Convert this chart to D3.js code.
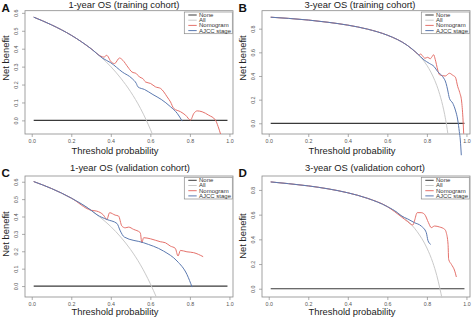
<!DOCTYPE html>
<meta charset="utf-8">
<script src="https://d3js.org/d3.v7.min.js"></script>
<style>
  body { margin: 0; background: #fff; }
  svg text { font-family: "Liberation Sans", Arial, sans-serif; }
</style>
<div id="chart"></div>
<script>
  // ---- data ----
  var panelLetters = ["A", "B", "C", "D"];
  var panelTitles = ["1-year OS (training cohort)", "3-year OS (training cohort)",
                     "1-year OS (validation cohort)", "3-year OS (validation cohort)"];
  var legendLabels = ["None", "All", "Nomogram", "AJCC stage"];
  var xTicks = [0, 0.2, 0.4, 0.6, 0.8, 1.0];
  var yTicksA = [0, 0.1, 0.2, 0.3, 0.4, 0.5, 0.6];
  var yTicksB = [0, 0.2, 0.4, 0.6, 0.8];
  var yTicksC = [0, 0.1, 0.2, 0.3, 0.4, 0.5, 0.6];
  var yTicksD = [0, 0.2, 0.4, 0.6, 0.8];
  var yLimits = [[-0.076, 0.612], [-0.0905, 0.952], [-0.063, 0.633], [-0.067, 0.913]];

  var noneLine = [[0.01, 0], [0.99, 0]];

  var allA = [[0.01,0.576],[0.1,0.533],[0.2,0.475],[0.3,0.40],[0.35,0.354],[0.4,0.30],[0.45,0.236],
              [0.5,0.16],[0.55,0.067],[0.58,0.0],[0.6,-0.05],[0.61,-0.076]];
  var nomogramA = [[0.01,0.576],[0.1,0.533],[0.2,0.475],[0.3,0.40],[0.35,0.358],[0.365,0.353],[0.379,0.363],
              [0.402,0.326],[0.419,0.317],[0.444,0.348],[0.461,0.335],[0.486,0.298],[0.507,0.27],[0.529,0.261],
              [0.545,0.242],[0.562,0.233],[0.576,0.214],[0.601,0.206],[0.626,0.187],[0.652,0.178],[0.668,0.159],
              [0.685,0.131],[0.702,0.103],[0.718,0.067],[0.753,0.048],[0.778,0.029],[0.803,0.002],[0.82,0.039],
              [0.837,0.053],[0.862,0.048],[0.895,0.029],[0.929,0.002],[0.943,-0.035],[0.955,-0.076]];
  var ajccA = [[0.01,0.576],[0.1,0.533],[0.2,0.475],[0.3,0.40],[0.36,0.346],[0.399,0.322],[0.458,0.27],
              [0.508,0.233],[0.529,0.206],[0.537,0.187],[0.571,0.172],[0.613,0.144],[0.655,0.117],
              [0.702,0.076],[0.736,0.039],[0.761,-0.004]];

  var allB = [[0.01,0.897],[0.1,0.887],[0.2,0.873],[0.3,0.854],[0.4,0.83],[0.5,0.796],[0.6,0.745],[0.65,0.709],
              [0.7,0.66],[0.75,0.592],[0.8,0.49],[0.82,0.433],[0.84,0.362],[0.86,0.271],[0.88,0.150],
              [0.89,0.073],[0.9,-0.02],[0.906,-0.088]];
  var nomogramB = [[0.01,0.897],[0.1,0.887],[0.2,0.873],[0.3,0.854],[0.4,0.83],[0.5,0.796],[0.6,0.745],
              [0.7,0.66],[0.744,0.60],[0.761,0.578],[0.769,0.586],[0.778,0.569],[0.79,0.55],[0.804,0.558],
              [0.817,0.546],[0.826,0.563],[0.834,0.58],[0.842,0.541],[0.855,0.45],[0.864,0.41],[0.893,0.40],
              [0.914,0.423],[0.931,0.406],[0.944,0.39],[0.956,0.31],[0.966,0.26],[0.976,0.18],[0.983,0.02],
              [0.986,-0.088]];
  var ajccB = [[0.01,0.897],[0.1,0.887],[0.2,0.873],[0.3,0.854],[0.4,0.83],[0.5,0.796],[0.6,0.745],
              [0.65,0.709],[0.7,0.66],[0.75,0.592],[0.786,0.535],[0.812,0.507],[0.837,0.479],[0.855,0.436],
              [0.88,0.394],[0.897,0.338],[0.905,0.282],[0.914,0.211],[0.931,0.169],[0.944,0.112],
              [0.956,0.028],[0.964,-0.071],[0.969,-0.141],[0.974,-0.27]];

  var allC = [[0.01,0.601],[0.1,0.561],[0.2,0.506],[0.3,0.436],[0.35,0.392],[0.4,0.342],[0.45,0.282],
              [0.5,0.21],[0.55,0.122],[0.6,0.013],[0.63,-0.063]];
  var nomogramC = [[0.01,0.601],[0.1,0.561],[0.2,0.506],[0.3,0.436],[0.329,0.431],[0.363,0.408],[0.38,0.383],
              [0.394,0.422],[0.422,0.408],[0.439,0.403],[0.456,0.345],[0.473,0.335],[0.49,0.339],[0.515,0.326],
              [0.549,0.307],[0.557,0.249],[0.566,0.278],[0.6,0.272],[0.65,0.255],[0.676,0.249],[0.701,0.23],
              [0.726,0.217],[0.74,0.173],[0.752,0.205],[0.785,0.197],[0.819,0.192],[0.867,0.169]];
  var ajccC = [[0.01,0.601],[0.1,0.561],[0.2,0.506],[0.3,0.436],[0.33,0.41],[0.38,0.383],[0.431,0.36],
              [0.448,0.317],[0.468,0.282],[0.566,0.249],[0.667,0.201],[0.735,0.144],[0.785,0.067],[0.811,-0.006]];

  var allD = [[0.01,0.865],[0.1,0.851],[0.2,0.833],[0.3,0.809],[0.4,0.777],[0.5,0.732],[0.6,0.665],
              [0.65,0.617],[0.7,0.553],[0.75,0.464],[0.8,0.33],[0.83,0.212],[0.85,0.107],[0.866,0.0],[0.876,-0.075]];
  var nomogramD = [[0.01,0.865],[0.1,0.851],[0.2,0.833],[0.3,0.809],[0.4,0.777],[0.5,0.732],[0.6,0.665],
              [0.636,0.625],[0.669,0.585],[0.703,0.543],[0.729,0.516],[0.737,0.549],[0.751,0.616],[0.771,0.616],
              [0.788,0.603],[0.808,0.535],[0.822,0.495],[0.839,0.508],[0.864,0.5],[0.89,0.481],[0.898,0.454],
              [0.907,0.359],[0.91,0.238],[0.924,0.197],[0.941,0.143],[0.949,0.095]];
  var ajccD = [[0.01,0.865],[0.1,0.851],[0.2,0.833],[0.3,0.809],[0.4,0.777],[0.5,0.732],[0.6,0.665],
              [0.65,0.617],[0.669,0.592],[0.703,0.565],[0.737,0.535],[0.771,0.508],[0.797,0.454],
              [0.805,0.392],[0.819,0.359]];

  // ---- layout ----
  var colors = ["#3a3a3a", "#cacaca", "#e5716b", "#5b79b0"];
  var offsets = [[0, 0], [237, 0], [0, 161], [237, 161]];
  var frames = [[10.7, 134], [10.7, 134], [15, 136], [15, 136]];   // top, bottom (panel coords)
  var ylabY = [58, 58, 73, 75];
  var titleX = [124, 123, 130, 128];
  var titleY = [8.3, 8.3, 10, 10];

  var panels = [
    {yTicks: yTicksA, series: [noneLine, allA, nomogramA, ajccA]},
    {yTicks: yTicksB, series: [noneLine, allB, nomogramB, ajccB]},
    {yTicks: yTicksC, series: [noneLine, allC, nomogramC, ajccC]},
    {yTicks: yTicksD, series: [noneLine, allD, nomogramD, ajccD]}
  ];

  var svg = d3.select("#chart").append("svg")
      .attr("width", 474)
      .attr("height", 322);

  panels.forEach(function(p, i) {
    var g = svg.append("g")
        .attr("transform", "translate(" + offsets[i][0] + "," + offsets[i][1] + ")");
    var top = frames[i][0], bottom = frames[i][1];
    var left = 25, right = 233;

    var x = d3.scaleLinear().domain([-0.034, 1.018]).range([left, right]);
    var y = d3.scaleLinear().domain(yLimits[i]).range([bottom, top]);

    // frame
    g.append("rect")
      .attr("x", left).attr("y", top)
      .attr("width", right - left).attr("height", bottom - top)
      .attr("fill", "none").attr("stroke", "#8a8a8a").attr("stroke-width", 0.8);

    // x axis
    var xa = g.append("g")
      .attr("transform", "translate(0," + bottom + ")")
      .call(d3.axisBottom(x).tickValues(xTicks).tickFormat(d3.format(".1f")).tickSize(3).tickPadding(2));
    xa.select(".domain").remove();
    xa.selectAll("line").attr("stroke", "#8a8a8a").attr("stroke-width", 0.7);
    xa.selectAll("text").attr("font-size", "5.3px").attr("fill", "#555");

    // y axis, labels parallel to the axis
    var ya = g.append("g")
      .attr("transform", "translate(" + left + ",0)")
      .call(d3.axisLeft(y).tickValues(p.yTicks).tickFormat(d3.format(".1f")).tickSize(3));
    ya.select(".domain").remove();
    ya.selectAll("line").attr("stroke", "#8a8a8a").attr("stroke-width", 0.7);
    ya.selectAll("text")
      .attr("font-size", "5.3px").attr("fill", "#555")
      .attr("x", null).attr("dy", null)
      .attr("text-anchor", "middle")
      .attr("transform", "translate(-7.5,0) rotate(-90)");

    // curves
    var line = d3.line()
      .x(d => x(d[0]))
      .y(d => y(d[1]))
      .curve(d3.curveMonotoneX);
    p.series.forEach(function(s, k) {
      g.append("path")
        .attr("d", line(s))
        .attr("fill", "none")
        .attr("stroke", colors[k])
        .attr("stroke-width", k == 0 ? 1.2 : 1);
    });

    // labels
    g.append("text")
      .attr("x", titleX[i]).attr("y", titleY[i])
      .attr("text-anchor", "middle")
      .attr("font-size", "9.4px").attr("fill", "#222")
      .text(panelTitles[i]);
    g.append("text")
      .attr("x", 1.5).attr("y", i < 2 ? 12 : 15.5)
      .attr("font-size", "11.6px").attr("font-weight", "bold").attr("fill", "#111")
      .text(panelLetters[i]);
    g.append("text")
      .attr("x", 115).attr("y", 153.5)
      .attr("text-anchor", "middle")
      .attr("font-size", "9.4px").attr("fill", "#222")
      .text("Threshold probability");
    g.append("text")
      .attr("transform", "translate(9.3," + ylabY[i] + ") rotate(-90)")
      .attr("text-anchor", "middle")
      .attr("font-size", "9.4px").attr("fill", "#222")
      .text("Net benefit");

    // legend
    var lg = g.append("g").attr("transform", "translate(184.3," + (top + 1.3) + ")");
    lg.append("rect")
      .attr("width", 48).attr("height", 21.7)
      .attr("fill", "#fff").attr("stroke", "#8a8a8a").attr("stroke-width", 0.7);
    legendLabels.forEach(function(label, k) {
      var ly = 3 + k * 5.2;
      lg.append("line")
        .attr("x1", 4).attr("x2", 12.4).attr("y1", ly).attr("y2", ly)
        .attr("stroke", colors[k]).attr("stroke-width", 1);
      lg.append("text")
        .attr("x", 14.7).attr("y", ly + 2)
        .attr("font-size", "6px").attr("fill", "#333")
        .text(label);
    });
  });
</script>
